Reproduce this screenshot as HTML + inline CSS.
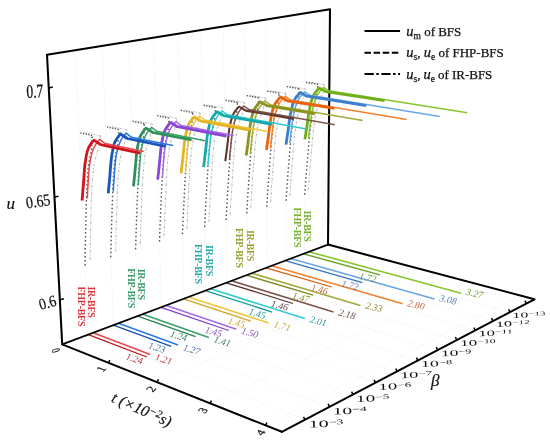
<!DOCTYPE html>
<html><head><meta charset="utf-8"><title>BFS velocity plot</title>
<style>html,body{margin:0;padding:0;background:#fff}svg{display:block}</style></head>
<body>
<svg width="550" height="442" viewBox="0 0 550 442">
<rect width="550" height="442" fill="#fff"/>
<g stroke="#e6ebf2" stroke-width="0.8" stroke-dasharray="1 1.6" fill="none">
<path d="M85.8,335.6 L305.0,419.7"/>
<path d="M111.0,326.1 L329.5,406.8"/>
<path d="M135.3,316.9 L353.0,394.5"/>
<path d="M158.7,308.2 L375.5,382.7"/>
<path d="M181.3,299.7 L397.1,371.3"/>
<path d="M203.1,291.5 L417.8,360.5"/>
<path d="M224.1,283.6 L437.7,350.0"/>
<path d="M244.5,276.0 L456.8,340.0"/>
<path d="M264.1,268.6 L475.2,330.4"/>
<path d="M283.1,261.4 L492.9,321.1"/>
<path d="M301.5,254.5 L510.0,312.1"/>
<path d="M319.3,247.8 L526.4,303.5"/>
<path d="M108.6,362.9 L372.8,256.4"/>
<path d="M157.2,382.3 L419.1,268.7"/>
<path d="M210.3,403.4 L468.7,281.8"/>
<path d="M265.7,425.4 L519.7,295.4"/>
</g>
<g stroke="#e6e6e6" stroke-width="0.8" stroke-dasharray="1 2" fill="none">
<path d="M88.3,334.6 L75.1,50.3"/>
<path d="M113.6,325.1 L102.3,45.9"/>
<path d="M138.0,316.0 L128.4,41.7"/>
<path d="M161.5,307.1 L153.5,37.7"/>
<path d="M184.1,298.6 L177.7,33.8"/>
<path d="M205.9,290.4 L200.9,30.0"/>
<path d="M227.0,282.5 L223.3,26.4"/>
<path d="M247.4,274.8 L244.9,23.0"/>
<path d="M267.1,267.4 L265.8,19.6"/>
<path d="M286.1,260.3 L285.9,16.4"/>
<path d="M304.5,253.4 L305.3,13.3"/>
<path d="M322.4,246.7 L324.1,10.2"/>
</g>
<path d="M93.2,332.8 L150.2,354.4" stroke="#e8494f" stroke-width="1.6" fill="none"/>
<path d="M88.3,334.6 L146.8,357.0" stroke="#c21219" stroke-width="1.3" fill="none"/>
<path d="M118.4,323.3 L178.1,345.1" stroke="#2a78e0" stroke-width="1.6" fill="none"/>
<path d="M113.4,325.2 L171.2,346.4" stroke="#174ea9" stroke-width="1.3" fill="none"/>
<path d="M142.8,314.2 L208.9,337.5" stroke="#3c9f6b" stroke-width="1.6" fill="none"/>
<path d="M137.7,316.1 L195.6,336.6" stroke="#2b8353" stroke-width="1.3" fill="none"/>
<path d="M166.2,305.4 L236.4,329.2" stroke="#a56be8" stroke-width="1.6" fill="none"/>
<path d="M161.0,307.3 L228.8,330.5" stroke="#7f3fc4" stroke-width="1.3" fill="none"/>
<path d="M188.8,296.9 L268.8,323.1" stroke="#f0c63c" stroke-width="1.6" fill="none"/>
<path d="M183.5,298.8 L250.8,321.1" stroke="#d3a51f" stroke-width="1.3" fill="none"/>
<path d="M210.5,288.7 L304.8,318.6" stroke="#2ccacf" stroke-width="1.6" fill="none"/>
<path d="M205.3,290.7 L272.1,312.1" stroke="#129b9f" stroke-width="1.3" fill="none"/>
<path d="M231.6,280.8 L333.5,312.1" stroke="#7d544b" stroke-width="1.6" fill="none"/>
<path d="M226.3,282.8 L293.0,303.5" stroke="#5b332b" stroke-width="1.3" fill="none"/>
<path d="M251.9,273.2 L360.4,305.5" stroke="#a3ab3a" stroke-width="1.6" fill="none"/>
<path d="M246.5,275.2 L313.2,295.2" stroke="#7f871c" stroke-width="1.3" fill="none"/>
<path d="M271.5,265.8 L402.6,303.7" stroke="#f4812d" stroke-width="1.6" fill="none"/>
<path d="M266.1,267.8 L331.8,287.0" stroke="#d25c0c" stroke-width="1.3" fill="none"/>
<path d="M290.5,258.6 L434.5,299.1" stroke="#6ba5e3" stroke-width="1.6" fill="none"/>
<path d="M285.1,260.7 L362.4,282.6" stroke="#3774bb" stroke-width="1.3" fill="none"/>
<path d="M308.9,251.7 L461.1,293.3" stroke="#86c52f" stroke-width="1.6" fill="none"/>
<path d="M303.4,253.8 L380.0,274.9" stroke="#66a019" stroke-width="1.3" fill="none"/>
<g stroke="#000" stroke-width="2.05" fill="none" stroke-linejoin="round" stroke-linecap="round">
<path d="M281.8,431.8 L62.2,344.4 L47.0,54.8 L330.0,9.3 L328.0,244.6"/>
<path d="M328.0,244.6 L534.5,299.3 L281.8,431.8"/>
<path d="M62.2,344.4 L328.0,244.6" stroke-width="1.7"/>
</g>
<polyline points="90.1,260.0 90.1,255.8 90.2,251.6 90.2,247.3 90.3,243.1 90.4,238.9 90.5,234.6 90.6,230.4 90.7,226.1 90.8,221.8 90.9,217.5 91.0,213.2 91.1,208.9 91.2,204.6 91.3,200.3 91.5,196.0 91.7,191.7 91.9,187.3 92.2,183.0 92.5,178.7 92.9,174.4 93.3,170.1 93.9,165.8 94.7,161.5 95.8,157.3 97.1,153.2 98.3,148.9 99.2,144.6 99.9,140.3 100.6,135.9" stroke="#bdbdbd" stroke-width="1.1" stroke-dasharray="3 1.6 1 1.6" fill="none"/>
<polyline points="100.6,135.9 84.3,132.2" stroke="#bdbdbd" stroke-width="1.1" stroke-dasharray="2.2 1.2 0.8 1.2" fill="none"/>
<polyline points="85.1,265.6 85.1,261.2 85.2,256.9 85.2,252.5 85.3,248.1 85.4,243.7 85.5,239.2 85.6,234.8 85.7,230.4 85.8,225.9 85.9,221.5 86.0,217.0 86.1,212.5 86.2,208.0 86.3,203.5 86.5,199.0 86.6,194.5 86.8,190.0 87.0,185.5 87.3,180.9 87.5,176.4 87.8,171.9 88.2,167.4 88.8,162.9 89.7,158.4 90.7,154.0 91.4,149.5 91.7,144.9 92.0,140.2 92.1,135.5" stroke="#505050" stroke-width="1.4" stroke-dasharray="1.5 2.5" fill="none"/>
<polyline points="92.1,135.5 78.9,132.5" stroke="#505050" stroke-width="1.4" stroke-dasharray="1.3 1.4" fill="none"/>
<polyline points="115.7,251.8 115.7,247.6 115.8,243.5 115.9,239.3 116.0,235.2 116.1,231.0 116.3,226.8 116.4,222.7 116.5,218.5 116.6,214.3 116.8,210.1 116.9,205.9 117.0,201.6 117.2,197.4 117.3,193.1 117.5,188.9 117.7,184.6 118.0,180.4 118.3,176.1 118.6,171.9 119.0,167.7 119.5,163.4 120.2,159.2 120.9,155.0 122.1,150.9 123.5,146.8 124.6,142.7 125.5,138.4 126.3,134.2 127.0,129.8" stroke="#bdbdbd" stroke-width="1.1" stroke-dasharray="3 1.6 1 1.6" fill="none"/>
<polyline points="127.0,129.8 110.7,126.3" stroke="#bdbdbd" stroke-width="1.1" stroke-dasharray="2.2 1.2 0.8 1.2" fill="none"/>
<polyline points="110.8,257.3 110.9,253.0 111.0,248.7 111.1,244.4 111.2,240.0 111.3,235.7 111.4,231.4 111.6,227.0 111.7,222.6 111.8,218.3 112.0,213.9 112.1,209.5 112.2,205.1 112.4,200.7 112.5,196.3 112.7,191.9 112.9,187.4 113.1,183.0 113.3,178.5 113.6,174.1 113.9,169.6 114.3,165.2 114.7,160.7 115.3,156.3 116.2,152.0 117.2,147.6 117.9,143.2 118.3,138.7 118.6,134.1 118.7,129.5" stroke="#505050" stroke-width="1.4" stroke-dasharray="1.5 2.5" fill="none"/>
<polyline points="118.7,129.5 105.6,126.6" stroke="#505050" stroke-width="1.4" stroke-dasharray="1.3 1.4" fill="none"/>
<polyline points="140.3,243.9 140.4,239.8 140.5,235.7 140.6,231.7 140.8,227.6 140.9,223.5 141.0,219.4 141.2,215.3 141.4,211.2 141.5,207.0 141.7,202.9 141.8,198.7 142.0,194.6 142.2,190.4 142.4,186.3 142.6,182.1 142.8,177.9 143.1,173.7 143.4,169.5 143.8,165.4 144.2,161.2 144.7,157.0 145.4,152.9 146.2,148.8 147.4,144.7 148.8,140.7 150.0,136.6 150.9,132.5 151.7,128.3 152.4,124.0" stroke="#bdbdbd" stroke-width="1.1" stroke-dasharray="3 1.6 1 1.6" fill="none"/>
<polyline points="152.4,124.0 136.1,120.6" stroke="#bdbdbd" stroke-width="1.1" stroke-dasharray="2.2 1.2 0.8 1.2" fill="none"/>
<polyline points="135.6,249.3 135.8,245.0 135.9,240.8 136.0,236.6 136.1,232.3 136.3,228.1 136.4,223.8 136.5,219.5 136.7,215.2 136.9,210.9 137.0,206.6 137.2,202.3 137.4,198.0 137.5,193.6 137.7,189.3 137.9,185.0 138.1,180.6 138.4,176.2 138.6,171.9 138.9,167.5 139.3,163.1 139.6,158.8 140.1,154.4 140.7,150.0 141.7,145.8 142.7,141.5 143.5,137.1 143.9,132.7 144.2,128.2 144.3,123.7" stroke="#505050" stroke-width="1.4" stroke-dasharray="1.5 2.5" fill="none"/>
<polyline points="144.3,123.7 131.2,120.9" stroke="#505050" stroke-width="1.4" stroke-dasharray="1.3 1.4" fill="none"/>
<polyline points="164.0,236.3 164.2,232.3 164.3,228.3 164.4,224.3 164.6,220.3 164.8,216.2 164.9,212.2 165.1,208.1 165.3,204.1 165.5,200.0 165.6,196.0 165.8,191.9 166.0,187.8 166.2,183.7 166.4,179.6 166.6,175.5 166.9,171.4 167.2,167.3 167.5,163.2 167.9,159.1 168.4,155.0 169.0,150.9 169.6,146.8 170.5,142.8 171.7,138.8 173.1,134.8 174.3,130.8 175.3,126.7 176.1,122.6 176.8,118.4" stroke="#bdbdbd" stroke-width="1.1" stroke-dasharray="3 1.6 1 1.6" fill="none"/>
<polyline points="176.8,118.4 160.6,115.1" stroke="#bdbdbd" stroke-width="1.1" stroke-dasharray="2.2 1.2 0.8 1.2" fill="none"/>
<polyline points="159.5,241.6 159.7,237.4 159.8,233.2 159.9,229.1 160.1,224.9 160.3,220.7 160.4,216.5 160.6,212.3 160.8,208.1 161.0,203.8 161.2,199.6 161.4,195.4 161.5,191.1 161.7,186.9 162.0,182.6 162.2,178.3 162.4,174.0 162.7,169.7 163.0,165.5 163.3,161.2 163.6,156.9 164.1,152.6 164.5,148.3 165.2,144.0 166.2,139.8 167.2,135.6 168.0,131.3 168.5,126.9 168.8,122.5 169.0,118.1" stroke="#505050" stroke-width="1.4" stroke-dasharray="1.5 2.5" fill="none"/>
<polyline points="169.0,118.1 155.8,115.4" stroke="#505050" stroke-width="1.4" stroke-dasharray="1.3 1.4" fill="none"/>
<polyline points="186.9,229.0 187.0,225.0 187.2,221.1 187.4,217.1 187.5,213.2 187.7,209.2 187.9,205.3 188.1,201.3 188.3,197.3 188.5,193.3 188.7,189.3 188.9,185.3 189.1,181.3 189.4,177.3 189.6,173.2 189.8,169.2 190.1,165.2 190.4,161.1 190.8,157.1 191.2,153.0 191.7,149.0 192.3,145.0 193.0,141.0 193.8,137.0 195.1,133.1 196.5,129.2 197.7,125.2 198.7,121.2 199.6,117.2 200.3,113.1" stroke="#bdbdbd" stroke-width="1.1" stroke-dasharray="3 1.6 1 1.6" fill="none"/>
<polyline points="200.3,113.1 184.1,109.9" stroke="#bdbdbd" stroke-width="1.1" stroke-dasharray="2.2 1.2 0.8 1.2" fill="none"/>
<polyline points="182.5,234.1 182.7,230.0 182.9,225.9 183.0,221.8 183.2,217.7 183.4,213.6 183.6,209.5 183.8,205.3 184.0,201.2 184.2,197.0 184.4,192.9 184.6,188.7 184.8,184.5 185.1,180.3 185.3,176.1 185.5,171.9 185.8,167.7 186.1,163.5 186.4,159.3 186.7,155.0 187.1,150.8 187.6,146.6 188.1,142.4 188.7,138.2 189.7,134.0 190.8,129.9 191.6,125.7 192.1,121.4 192.5,117.1 192.7,112.7" stroke="#505050" stroke-width="1.4" stroke-dasharray="1.5 2.5" fill="none"/>
<polyline points="192.7,112.7 179.5,110.1" stroke="#505050" stroke-width="1.4" stroke-dasharray="1.3 1.4" fill="none"/>
<polyline points="208.9,221.9 209.1,218.0 209.3,214.2 209.5,210.3 209.7,206.4 209.9,202.5 210.1,198.6 210.3,194.7 210.5,190.8 210.8,186.8 211.0,182.9 211.2,178.9 211.4,175.0 211.7,171.0 211.9,167.1 212.2,163.1 212.5,159.1 212.8,155.2 213.2,151.2 213.7,147.2 214.2,143.3 214.8,139.3 215.5,135.4 216.4,131.4 217.6,127.6 219.1,123.7 220.3,119.9 221.3,115.9 222.2,111.9 223.0,107.9" stroke="#bdbdbd" stroke-width="1.1" stroke-dasharray="3 1.6 1 1.6" fill="none"/>
<polyline points="223.0,107.9 206.8,104.8" stroke="#bdbdbd" stroke-width="1.1" stroke-dasharray="2.2 1.2 0.8 1.2" fill="none"/>
<polyline points="204.7,227.0 204.9,222.9 205.1,218.9 205.3,214.9 205.5,210.8 205.7,206.7 205.9,202.7 206.1,198.6 206.3,194.5 206.6,190.5 206.8,186.4 207.0,182.3 207.3,178.1 207.5,174.0 207.8,169.9 208.0,165.8 208.3,161.6 208.6,157.5 209.0,153.3 209.3,149.2 209.7,145.0 210.2,140.9 210.7,136.7 211.4,132.6 212.4,128.5 213.6,124.4 214.4,120.3 214.9,116.1 215.3,111.8 215.5,107.5" stroke="#505050" stroke-width="1.4" stroke-dasharray="1.5 2.5" fill="none"/>
<polyline points="215.5,107.5 202.4,105.0" stroke="#505050" stroke-width="1.4" stroke-dasharray="1.3 1.4" fill="none"/>
<polyline points="230.2,215.1 230.4,211.3 230.6,207.5 230.8,203.6 231.0,199.8 231.2,196.0 231.5,192.1 231.7,188.3 232.0,184.4 232.2,180.6 232.5,176.7 232.7,172.8 232.9,168.9 233.2,165.0 233.5,161.1 233.8,157.2 234.1,153.3 234.4,149.4 234.8,145.5 235.3,141.6 235.8,137.7 236.5,133.8 237.2,129.9 238.1,126.1 239.3,122.3 240.8,118.5 242.1,114.7 243.1,110.8 244.0,106.9 244.8,102.9" stroke="#bdbdbd" stroke-width="1.1" stroke-dasharray="3 1.6 1 1.6" fill="none"/>
<polyline points="244.8,102.9 228.7,99.9" stroke="#bdbdbd" stroke-width="1.1" stroke-dasharray="2.2 1.2 0.8 1.2" fill="none"/>
<polyline points="226.1,220.0 226.3,216.1 226.5,212.1 226.7,208.1 227.0,204.1 227.2,200.1 227.4,196.2 227.7,192.1 227.9,188.1 228.2,184.1 228.4,180.1 228.7,176.0 228.9,172.0 229.2,167.9 229.5,163.9 229.8,159.8 230.1,155.7 230.4,151.7 230.7,147.6 231.1,143.5 231.5,139.4 232.0,135.3 232.6,131.2 233.3,127.2 234.3,123.2 235.5,119.2 236.3,115.1 236.8,110.9 237.2,106.8 237.5,102.5" stroke="#505050" stroke-width="1.4" stroke-dasharray="1.5 2.5" fill="none"/>
<polyline points="237.5,102.5 224.4,100.1" stroke="#505050" stroke-width="1.4" stroke-dasharray="1.3 1.4" fill="none"/>
<polyline points="250.8,208.5 251.0,204.8 251.2,201.0 251.4,197.3 251.6,193.5 251.9,189.7 252.1,185.9 252.4,182.1 252.6,178.3 252.9,174.5 253.2,170.7 253.4,166.9 253.7,163.1 254.0,159.2 254.3,155.4 254.6,151.6 254.9,147.7 255.3,143.9 255.7,140.0 256.2,136.2 256.7,132.3 257.4,128.5 258.1,124.7 259.0,120.9 260.3,117.2 261.8,113.4 263.1,109.7 264.1,105.8 265.0,102.0 265.8,98.1" stroke="#bdbdbd" stroke-width="1.1" stroke-dasharray="3 1.6 1 1.6" fill="none"/>
<polyline points="265.8,98.1 249.7,95.2" stroke="#bdbdbd" stroke-width="1.1" stroke-dasharray="2.2 1.2 0.8 1.2" fill="none"/>
<polyline points="246.8,213.4 247.0,209.5 247.2,205.5 247.5,201.6 247.7,197.7 247.9,193.8 248.2,189.8 248.5,185.9 248.7,182.0 249.0,178.0 249.3,174.0 249.5,170.1 249.8,166.1 250.1,162.1 250.4,158.1 250.7,154.1 251.0,150.1 251.4,146.1 251.7,142.0 252.1,138.0 252.6,134.0 253.1,130.0 253.6,126.0 254.4,122.0 255.4,118.0 256.6,114.1 257.4,110.1 258.0,106.0 258.4,101.9 258.6,97.7" stroke="#505050" stroke-width="1.4" stroke-dasharray="1.5 2.5" fill="none"/>
<polyline points="258.6,97.7 245.6,95.4" stroke="#505050" stroke-width="1.4" stroke-dasharray="1.3 1.4" fill="none"/>
<polyline points="270.6,202.2 270.8,198.5 271.1,194.8 271.3,191.1 271.5,187.4 271.8,183.6 272.1,179.9 272.3,176.2 272.6,172.4 272.9,168.7 273.2,165.0 273.5,161.2 273.7,157.4 274.0,153.6 274.3,149.9 274.7,146.1 275.0,142.3 275.4,138.5 275.8,134.7 276.3,130.9 276.9,127.2 277.6,123.4 278.3,119.6 279.2,115.9 280.5,112.2 282.0,108.6 283.3,104.8 284.3,101.1 285.3,97.3 286.1,93.4" stroke="#bdbdbd" stroke-width="1.1" stroke-dasharray="3 1.6 1 1.6" fill="none"/>
<polyline points="286.1,93.4 270.1,90.7" stroke="#bdbdbd" stroke-width="1.1" stroke-dasharray="2.2 1.2 0.8 1.2" fill="none"/>
<polyline points="266.8,206.9 267.0,203.1 267.2,199.2 267.5,195.4 267.7,191.5 268.0,187.6 268.3,183.8 268.5,179.9 268.8,176.0 269.1,172.1 269.4,168.2 269.7,164.3 270.0,160.4 270.3,156.4 270.6,152.5 270.9,148.5 271.3,144.6 271.6,140.7 272.0,136.7 272.4,132.7 272.9,128.8 273.4,124.8 274.0,120.9 274.7,116.9 275.8,113.0 277.0,109.2 277.8,105.2 278.4,101.2 278.8,97.2 279.1,93.1" stroke="#505050" stroke-width="1.4" stroke-dasharray="1.5 2.5" fill="none"/>
<polyline points="279.1,93.1 266.1,90.8" stroke="#505050" stroke-width="1.4" stroke-dasharray="1.3 1.4" fill="none"/>
<polyline points="289.8,196.0 290.0,192.4 290.3,188.7 290.5,185.1 290.8,181.4 291.1,177.8 291.3,174.1 291.6,170.4 291.9,166.8 292.2,163.1 292.5,159.4 292.8,155.7 293.1,152.0 293.4,148.2 293.7,144.5 294.1,140.8 294.4,137.1 294.8,133.3 295.3,129.6 295.8,125.9 296.4,122.2 297.0,118.5 297.8,114.8 298.7,111.1 300.1,107.4 301.5,103.8 302.9,100.2 303.9,96.5 304.9,92.7 305.7,89.0" stroke="#bdbdbd" stroke-width="1.1" stroke-dasharray="3 1.6 1 1.6" fill="none"/>
<polyline points="305.7,89.0 289.8,86.3" stroke="#bdbdbd" stroke-width="1.1" stroke-dasharray="2.2 1.2 0.8 1.2" fill="none"/>
<polyline points="286.1,200.7 286.3,196.9 286.6,193.1 286.8,189.3 287.1,185.5 287.4,181.7 287.7,177.9 287.9,174.0 288.2,170.2 288.5,166.4 288.9,162.5 289.2,158.7 289.5,154.8 289.8,151.0 290.1,147.1 290.5,143.2 290.8,139.3 291.2,135.4 291.6,131.5 292.0,127.6 292.5,123.7 293.0,119.8 293.6,116.0 294.4,112.1 295.5,108.3 296.6,104.4 297.5,100.5 298.1,96.6 298.6,92.6 298.8,88.6" stroke="#505050" stroke-width="1.4" stroke-dasharray="1.5 2.5" fill="none"/>
<polyline points="298.8,88.6 285.9,86.4" stroke="#505050" stroke-width="1.4" stroke-dasharray="1.3 1.4" fill="none"/>
<polyline points="308.3,190.1 308.6,186.5 308.9,182.9 309.1,179.3 309.4,175.7 309.7,172.1 310.0,168.5 310.3,164.9 310.6,161.2 310.9,157.6 311.2,154.0 311.5,150.3 311.8,146.7 312.1,143.0 312.5,139.4 312.8,135.7 313.2,132.0 313.6,128.3 314.1,124.7 314.6,121.0 315.2,117.3 315.9,113.7 316.7,110.0 317.6,106.4 318.9,102.8 320.4,99.3 321.8,95.7 322.8,92.0 323.8,88.3 324.6,84.6" stroke="#bdbdbd" stroke-width="1.1" stroke-dasharray="3 1.6 1 1.6" fill="none"/>
<polyline points="324.6,84.6 308.8,82.1" stroke="#bdbdbd" stroke-width="1.1" stroke-dasharray="2.2 1.2 0.8 1.2" fill="none"/>
<polyline points="304.7,194.6 305.0,190.9 305.3,187.2 305.5,183.4 305.8,179.7 306.1,175.9 306.4,172.2 306.7,168.4 307.0,164.6 307.3,160.9 307.7,157.1 308.0,153.3 308.3,149.5 308.6,145.7 309.0,141.9 309.3,138.0 309.7,134.2 310.1,130.4 310.5,126.5 311.0,122.7 311.5,118.9 312.0,115.0 312.6,111.2 313.4,107.4 314.5,103.6 315.7,99.9 316.5,96.0 317.1,92.1 317.6,88.2 317.9,84.3" stroke="#505050" stroke-width="1.4" stroke-dasharray="1.5 2.5" fill="none"/>
<polyline points="317.9,84.3 305.1,82.2" stroke="#505050" stroke-width="1.4" stroke-dasharray="1.3 1.4" fill="none"/>
<polyline points="308.5,138.1 309.0,134.3 309.4,130.6 309.8,127.2 310.3,123.8 310.7,120.4 311.1,117.2 311.6,114.1 312.0,111.4 312.4,109.2 312.9,107.4 313.3,105.7 313.7,104.2 314.2,102.7 314.6,101.4 315.0,100.2 315.5,99.1 315.9,98.1 316.3,97.1 316.8,96.3 317.2,95.5 317.6,94.7 318.0,94.0 318.5,93.4 318.9,92.8 319.3,92.2 319.8,91.6 320.2,91.1 320.6,90.6 321.1,90.1 321.5,89.6 321.9,89.1 322.4,88.7 322.8,88.3 323.2,87.9 323.7,87.5 328.7,90.8 467.3,112.8" stroke="#86c52f" stroke-width="1.5" fill="none" stroke-linejoin="round"/>
<polyline points="304.9,139.4 305.3,136.8 305.7,134.2 306.1,131.5 306.5,128.8 307.0,126.1 307.4,123.2 307.8,120.2 308.2,117.1 308.6,114.1 309.0,111.4 309.5,109.2 309.9,107.2 310.3,105.4 310.7,103.6 311.1,102.0 311.5,100.5 312.0,99.2 312.4,98.0 312.8,96.9 313.2,96.0 313.6,95.2 314.0,94.5 314.4,93.8 314.9,93.2 315.3,92.7 315.7,92.1 316.1,91.6 316.5,91.1 316.9,90.6 317.4,90.1 317.8,89.7 318.2,89.3 318.6,88.8 319.0,88.5 319.4,88.1 325.9,91.7 384.6,100.7" stroke="#6fae1c" stroke-width="2.8" fill="none" stroke-linejoin="round"/>
<polyline points="289.8,143.2 290.2,139.4 290.6,135.6 291.0,132.1 291.5,128.7 291.9,125.3 292.3,122.0 292.7,118.9 293.1,116.1 293.6,113.9 294.0,112.0 294.4,110.3 294.8,108.8 295.3,107.3 295.7,106.0 296.1,104.8 296.6,103.6 297.0,102.6 297.4,101.7 297.8,100.8 298.3,100.0 298.7,99.2 299.1,98.5 299.6,97.8 300.0,97.2 300.4,96.6 300.9,96.1 301.3,95.5 301.7,95.0 302.1,94.5 302.6,94.0 303.0,93.5 303.4,93.1 303.9,92.7 304.3,92.3 304.7,91.9 309.8,95.3 439.8,116.5" stroke="#6ba5e3" stroke-width="1.5" fill="none" stroke-linejoin="round"/>
<polyline points="286.0,144.6 286.4,142.0 286.8,139.3 287.2,136.6 287.6,133.9 288.0,131.1 288.4,128.2 288.8,125.0 289.2,121.9 289.6,118.9 290.0,116.2 290.5,113.9 290.9,111.9 291.3,110.0 291.7,108.3 292.1,106.6 292.5,105.1 292.9,103.7 293.3,102.5 293.7,101.4 294.2,100.5 294.6,99.7 295.0,99.0 295.4,98.3 295.8,97.7 296.2,97.1 296.6,96.6 297.1,96.1 297.5,95.6 297.9,95.1 298.3,94.6 298.7,94.1 299.1,93.7 299.6,93.2 300.0,92.9 300.4,92.5 306.9,96.2 366.3,105.6" stroke="#3c7fcc" stroke-width="2.8" fill="none" stroke-linejoin="round"/>
<polyline points="270.4,148.5 270.8,144.6 271.2,140.8 271.6,137.3 272.0,133.8 272.4,130.3 272.8,126.9 273.2,123.8 273.6,121.0 274.0,118.7 274.5,116.9 274.9,115.1 275.3,113.5 275.7,112.1 276.1,110.7 276.6,109.5 277.0,108.3 277.4,107.3 277.8,106.3 278.3,105.4 278.7,104.6 279.1,103.8 279.6,103.1 280.0,102.5 280.4,101.8 280.8,101.2 281.3,100.7 281.7,100.1 282.1,99.6 282.6,99.1 283.0,98.6 283.4,98.1 283.9,97.6 284.3,97.2 284.7,96.8 285.2,96.4 290.2,99.9 406.7,119.4" stroke="#f4812d" stroke-width="1.5" fill="none" stroke-linejoin="round"/>
<polyline points="266.5,150.0 266.8,147.3 267.2,144.6 267.6,141.8 268.0,139.0 268.4,136.2 268.8,133.3 269.2,130.1 269.6,126.9 270.0,123.8 270.4,121.1 270.8,118.7 271.2,116.7 271.6,114.8 272.0,113.0 272.4,111.4 272.8,109.8 273.2,108.4 273.6,107.2 274.0,106.1 274.5,105.2 274.9,104.4 275.3,103.6 275.7,102.9 276.1,102.3 276.5,101.7 276.9,101.2 277.3,100.7 277.8,100.2 278.2,99.7 278.6,99.2 279.0,98.7 279.4,98.2 279.8,97.8 280.3,97.4 280.7,97.0 287.2,100.8 334.4,108.4" stroke="#e5650e" stroke-width="2.8" fill="none" stroke-linejoin="round"/>
<polyline points="250.3,154.0 250.7,150.1 251.0,146.2 251.4,142.6 251.8,139.1 252.2,135.5 252.6,132.1 253.0,128.9 253.4,126.1 253.8,123.8 254.2,121.9 254.7,120.1 255.1,118.5 255.5,117.0 255.9,115.6 256.3,114.4 256.7,113.2 257.2,112.1 257.6,111.2 258.0,110.2 258.4,109.4 258.9,108.6 259.3,107.9 259.7,107.2 260.1,106.6 260.6,106.0 261.0,105.4 261.4,104.9 261.9,104.3 262.3,103.8 262.7,103.3 263.2,102.8 263.6,102.3 264.0,101.9 264.4,101.5 264.9,101.1 270.0,104.7 362.7,120.5" stroke="#a3ab3a" stroke-width="1.5" fill="none" stroke-linejoin="round"/>
<polyline points="246.2,155.5 246.6,152.8 247.0,150.0 247.4,147.2 247.8,144.4 248.1,141.6 248.5,138.5 248.9,135.3 249.3,132.1 249.7,129.0 250.0,126.2 250.4,123.8 250.8,121.7 251.2,119.8 251.6,118.0 252.0,116.3 252.4,114.7 252.8,113.3 253.2,112.1 253.6,111.0 254.0,110.0 254.5,109.2 254.9,108.4 255.3,107.7 255.7,107.1 256.1,106.5 256.5,106.0 256.9,105.4 257.3,104.9 257.7,104.4 258.2,103.9 258.6,103.4 259.0,103.0 259.4,102.5 259.8,102.1 260.2,101.8 266.9,105.6 315.1,113.6" stroke="#8b931f" stroke-width="2.8" fill="none" stroke-linejoin="round"/>
<polyline points="229.5,159.7 229.8,155.7 230.2,151.8 230.6,148.1 231.0,144.5 231.3,140.9 231.7,137.4 232.1,134.2 232.5,131.3 232.9,129.0 233.3,127.0 233.7,125.3 234.1,123.6 234.5,122.1 234.9,120.7 235.3,119.4 235.8,118.2 236.2,117.2 236.6,116.2 237.0,115.2 237.4,114.4 237.9,113.6 238.3,112.9 238.7,112.2 239.1,111.5 239.6,110.9 240.0,110.3 240.4,109.8 240.8,109.2 241.3,108.7 241.7,108.2 242.1,107.7 242.6,107.2 243.0,106.8 243.4,106.4 243.9,106.0 249.0,109.6 334.8,124.7" stroke="#7d544b" stroke-width="1.5" fill="none" stroke-linejoin="round"/>
<polyline points="225.3,161.2 225.7,158.5 226.0,155.7 226.4,152.8 226.8,150.0 227.1,147.1 227.5,144.0 227.9,140.7 228.2,137.4 228.6,134.3 229.0,131.4 229.3,129.0 229.7,126.9 230.1,125.0 230.5,123.1 230.9,121.4 231.3,119.8 231.7,118.4 232.1,117.1 232.5,116.0 232.9,115.0 233.3,114.2 233.7,113.4 234.1,112.7 234.5,112.1 234.9,111.5 235.3,110.9 235.8,110.4 236.2,109.9 236.6,109.3 237.0,108.8 237.4,108.3 237.8,107.9 238.2,107.4 238.7,107.0 239.1,106.7 245.7,110.6 293.9,118.9" stroke="#63382f" stroke-width="2.1" fill="none" stroke-linejoin="round"/>
<polyline points="207.9,165.6 208.3,161.5 208.6,157.5 209.0,153.8 209.3,150.2 209.7,146.5 210.1,143.0 210.4,139.7 210.8,136.7 211.2,134.4 211.6,132.4 212.0,130.6 212.4,128.9 212.8,127.4 213.2,126.0 213.6,124.7 214.0,123.5 214.4,122.4 214.8,121.3 215.3,120.4 215.7,119.5 216.1,118.7 216.5,118.0 216.9,117.3 217.4,116.6 217.8,116.0 218.2,115.4 218.6,114.9 219.1,114.3 219.5,113.8 219.9,113.2 220.3,112.7 220.8,112.3 221.2,111.8 221.6,111.4 222.1,111.0 227.2,114.7 305.0,128.8" stroke="#2ccacf" stroke-width="1.5" fill="none" stroke-linejoin="round"/>
<polyline points="203.6,167.2 203.9,164.4 204.3,161.5 204.6,158.6 205.0,155.7 205.3,152.8 205.7,149.7 206.1,146.3 206.4,143.0 206.8,139.8 207.1,136.9 207.5,134.4 207.9,132.3 208.2,130.3 208.6,128.4 209.0,126.7 209.4,125.1 209.8,123.6 210.2,122.3 210.6,121.2 211.0,120.2 211.4,119.4 211.8,118.6 212.2,117.9 212.6,117.2 213.0,116.6 213.4,116.0 213.8,115.5 214.2,115.0 214.6,114.4 215.0,113.9 215.5,113.4 215.9,113.0 216.3,112.5 216.7,112.1 217.1,111.7 223.8,115.7 272.0,124.3" stroke="#14a9ad" stroke-width="2.8" fill="none" stroke-linejoin="round"/>
<polyline points="185.6,171.7 185.9,167.6 186.2,163.5 186.6,159.7 186.9,156.0 187.2,152.3 187.6,148.7 187.9,145.3 188.3,142.4 188.7,140.0 189.1,138.0 189.4,136.1 189.8,134.4 190.2,132.9 190.6,131.4 191.0,130.1 191.4,128.9 191.9,127.8 192.3,126.7 192.7,125.8 193.1,124.9 193.5,124.1 193.9,123.3 194.3,122.6 194.8,122.0 195.2,121.3 195.6,120.7 196.0,120.1 196.5,119.6 196.9,119.0 197.3,118.5 197.7,118.0 198.2,117.5 198.6,117.1 199.0,116.6 199.4,116.2 204.7,120.0 267.5,131.6" stroke="#f0c63c" stroke-width="1.5" fill="none" stroke-linejoin="round"/>
<polyline points="181.1,173.4 181.4,170.5 181.7,167.6 182.1,164.7 182.4,161.7 182.8,158.7 183.1,155.5 183.4,152.2 183.8,148.8 184.1,145.5 184.4,142.5 184.8,140.0 185.2,137.9 185.5,135.9 185.9,134.0 186.3,132.2 186.7,130.6 187.0,129.1 187.4,127.8 187.8,126.6 188.2,125.6 188.6,124.7 189.0,123.9 189.4,123.2 189.8,122.6 190.2,121.9 190.6,121.4 191.0,120.8 191.4,120.3 191.9,119.7 192.3,119.2 192.7,118.7 193.1,118.2 193.5,117.8 193.9,117.4 194.3,117.0 201.0,121.1 249.7,130.1" stroke="#e6b422" stroke-width="2.8" fill="none" stroke-linejoin="round"/>
<polyline points="162.4,178.1 162.7,173.8 163.0,169.7 163.3,165.9 163.6,162.1 163.9,158.3 164.3,154.7 164.6,151.2 164.9,148.2 165.3,145.8 165.7,143.7 166.1,141.9 166.4,140.1 166.8,138.5 167.2,137.1 167.6,135.7 168.0,134.5 168.4,133.4 168.8,132.3 169.2,131.4 169.6,130.5 170.1,129.6 170.5,128.9 170.9,128.1 171.3,127.5 171.7,126.8 172.1,126.2 172.6,125.6 173.0,125.1 173.4,124.5 173.8,124.0 174.3,123.4 174.7,123.0 175.1,122.5 175.5,122.1 176.0,121.7 181.2,125.6 233.8,135.4" stroke="#a56be8" stroke-width="1.5" fill="none" stroke-linejoin="round"/>
<polyline points="157.7,179.7 158.0,176.8 158.4,173.9 158.7,170.9 159.0,167.9 159.3,164.9 159.6,161.6 160.0,158.2 160.3,154.7 160.6,151.4 160.9,148.4 161.3,145.9 161.6,143.7 162.0,141.6 162.3,139.7 162.7,137.9 163.1,136.2 163.4,134.7 163.8,133.4 164.2,132.2 164.6,131.2 165.0,130.3 165.4,129.5 165.8,128.8 166.2,128.1 166.6,127.5 167.0,126.9 167.4,126.3 167.8,125.8 168.2,125.2 168.6,124.7 169.0,124.2 169.4,123.7 169.8,123.3 170.3,122.8 170.7,122.4 177.4,126.7 226.5,136.1" stroke="#8b45d6" stroke-width="2.8" fill="none" stroke-linejoin="round"/>
<polyline points="138.3,184.7 138.6,180.3 138.9,176.2 139.2,172.2 139.5,168.4 139.8,164.6 140.1,160.8 140.4,157.4 140.7,154.3 141.0,151.8 141.4,149.7 141.8,147.8 142.1,146.1 142.5,144.4 142.9,143.0 143.3,141.6 143.7,140.3 144.1,139.2 144.5,138.1 144.9,137.1 145.3,136.2 145.7,135.4 146.1,134.6 146.5,133.9 146.9,133.2 147.3,132.5 147.8,131.9 148.2,131.3 148.6,130.8 149.0,130.2 149.4,129.6 149.9,129.1 150.3,128.6 150.7,128.2 151.1,127.7 151.6,127.3 156.8,131.3 205.2,140.7" stroke="#3c9f6b" stroke-width="1.5" fill="none" stroke-linejoin="round"/>
<polyline points="133.5,186.4 133.8,183.4 134.1,180.4 134.4,177.4 134.7,174.3 135.0,171.2 135.3,168.0 135.6,164.5 135.9,161.0 136.2,157.6 136.5,154.5 136.8,151.9 137.1,149.7 137.5,147.6 137.8,145.7 138.2,143.8 138.5,142.1 138.9,140.6 139.3,139.2 139.7,138.0 140.0,137.0 140.4,136.1 140.8,135.3 141.2,134.6 141.6,133.9 142.0,133.2 142.4,132.6 142.8,132.1 143.2,131.5 143.6,131.0 144.0,130.4 144.4,129.9 144.8,129.4 145.2,129.0 145.7,128.5 146.1,128.1 152.8,132.5 191.6,140.0" stroke="#2f8f5b" stroke-width="2.8" fill="none" stroke-linejoin="round"/>
<polyline points="113.3,191.5 113.5,187.1 113.8,182.9 114.1,178.9 114.3,175.0 114.6,171.1 114.9,167.3 115.2,163.7 115.5,160.6 115.8,158.1 116.2,156.0 116.5,154.0 116.9,152.2 117.3,150.6 117.6,149.1 118.0,147.7 118.4,146.4 118.8,145.2 119.2,144.2 119.6,143.2 120.0,142.2 120.4,141.4 120.8,140.6 121.2,139.8 121.6,139.2 122.0,138.5 122.4,137.9 122.8,137.3 123.2,136.7 123.7,136.1 124.1,135.5 124.5,135.0 124.9,134.5 125.3,134.0 125.8,133.6 126.2,133.2 131.5,137.3 173.0,145.5" stroke="#2a78e0" stroke-width="1.5" fill="none" stroke-linejoin="round"/>
<polyline points="108.3,193.3 108.5,190.3 108.8,187.2 109.1,184.2 109.4,181.0 109.7,177.9 110.0,174.5 110.2,171.0 110.5,167.4 110.8,164.0 111.1,160.9 111.4,158.2 111.7,156.0 112.0,153.9 112.4,151.8 112.7,150.0 113.1,148.3 113.4,146.7 113.8,145.3 114.1,144.1 114.5,143.1 114.9,142.1 115.3,141.3 115.7,140.6 116.1,139.9 116.5,139.2 116.9,138.6 117.3,138.0 117.7,137.5 118.1,136.9 118.5,136.4 118.9,135.8 119.3,135.3 119.7,134.9 120.1,134.4 120.5,134.0 127.3,138.5 165.8,146.3" stroke="#1a55b8" stroke-width="2.8" fill="none" stroke-linejoin="round"/>
<polyline points="87.3,198.6 87.5,194.1 87.7,189.8 88.0,185.7 88.2,181.8 88.5,177.8 88.7,173.9 89.0,170.3 89.3,167.2 89.6,164.6 89.9,162.4 90.3,160.5 90.6,158.6 91.0,157.0 91.3,155.4 91.7,154.0 92.1,152.7 92.5,151.5 92.8,150.4 93.2,149.4 93.6,148.5 94.0,147.6 94.4,146.8 94.8,146.1 95.2,145.4 95.6,144.7 96.0,144.0 96.4,143.4 96.9,142.8 97.3,142.2 97.7,141.7 98.1,141.1 98.5,140.6 98.9,140.2 99.3,139.7 99.8,139.3 105.1,143.5 143.8,151.4" stroke="#e8494f" stroke-width="1.5" fill="none" stroke-linejoin="round"/>
<polyline points="82.1,200.5 82.3,197.4 82.6,194.3 82.8,191.2 83.1,188.0 83.4,184.8 83.6,181.4 83.9,177.8 84.1,174.1 84.4,170.6 84.6,167.5 84.9,164.8 85.2,162.5 85.6,160.3 85.9,158.3 86.2,156.4 86.5,154.6 86.9,153.0 87.2,151.6 87.6,150.4 88.0,149.4 88.3,148.4 88.7,147.6 89.1,146.8 89.5,146.1 89.9,145.4 90.3,144.8 90.7,144.2 91.1,143.7 91.5,143.1 91.9,142.5 92.3,142.0 92.6,141.5 93.0,141.0 93.5,140.6 93.9,140.2 100.7,144.7 140.0,153.1" stroke="#d3141c" stroke-width="2.8" fill="none" stroke-linejoin="round"/>
<g stroke="#000" stroke-width="1.5" fill="none">
<path d="M305.0,419.7 L303.5,416.8"/>
<path d="M329.5,406.8 L328.1,403.9"/>
<path d="M353.0,394.5 L351.6,391.6"/>
<path d="M375.5,382.7 L374.1,379.8"/>
<path d="M397.1,371.3 L395.7,368.5"/>
<path d="M417.8,360.5 L416.4,357.6"/>
<path d="M437.7,350.0 L436.3,347.2"/>
<path d="M456.8,340.0 L455.4,337.1"/>
<path d="M475.2,330.4 L473.8,327.5"/>
<path d="M492.9,321.1 L491.5,318.2"/>
<path d="M510.0,312.1 L508.6,309.3"/>
<path d="M526.4,303.5 L525.0,300.6"/>
<path d="M108.6,362.9 L109.7,359.9"/>
<path d="M157.2,382.3 L158.4,379.3"/>
<path d="M210.3,403.4 L211.4,400.4"/>
<path d="M265.7,425.4 L266.8,422.4"/>
<path d="M59.8,299.8 L63.9,298.8"/>
<path d="M54.5,197.2 L58.5,196.1"/>
<path d="M48.7,88.1 L52.8,87.1"/>
</g>
<g font-family="'Liberation Serif', serif" fill="#111" stroke="#111" stroke-width="0.2">
<text transform="translate(43.6,97.2) rotate(-3) scale(1,1.42)" font-size="13.5" text-anchor="end">0.7</text>
<text transform="translate(51,205) rotate(-8) scale(1,1.2)" font-size="14" text-anchor="end">0.65</text>
<text transform="translate(57.3,305.5) rotate(-15) scale(1,1.15)" font-size="14" text-anchor="end">0.6</text>
<text x="6.5" y="209.3" font-size="17" font-style="italic">u</text>
<text transform="translate(56,350.5) rotate(73) scale(0.65,1)" font-size="12" text-anchor="middle" dy="4">0</text>
<text transform="matrix(0.70,-0.68,0.93,0.37,101,369)" font-size="11.8" text-anchor="middle" dy="4">1</text>
<text transform="matrix(0.70,-0.68,0.93,0.37,151,389)" font-size="11.8" text-anchor="middle" dy="4">2</text>
<text transform="matrix(0.70,-0.68,0.93,0.37,202.7,410.4)" font-size="11.8" text-anchor="middle" dy="4">3</text>
<text transform="matrix(0.70,-0.68,0.93,0.37,260.6,432.5)" font-size="11.8" text-anchor="middle" dy="4">4</text>
<text transform="translate(110.6,401.2) rotate(24)" font-size="15.6" font-style="italic">t (×10<tspan font-size="11" dy="-4.5">−2</tspan><tspan dy="4.5">s)</tspan></text>
<text transform="translate(308.7,427.6) rotate(-2) scale(2.05,1)" stroke="none" font-size="9.80">10<tspan font-size="6.86" dy="-2.3">−3</tspan></text>
<text transform="translate(332.8,414.5) rotate(-2) scale(2.05,1)" stroke="none" font-size="9.59">10<tspan font-size="6.71" dy="-2.2">−4</tspan></text>
<text transform="translate(356.1,402.0) rotate(-2) scale(2.05,1)" stroke="none" font-size="9.38">10<tspan font-size="6.57" dy="-2.2">−5</tspan></text>
<text transform="translate(378.6,389.9) rotate(-2) scale(2.05,1)" stroke="none" font-size="9.17">10<tspan font-size="6.42" dy="-2.1">−6</tspan></text>
<text transform="translate(400.2,378.2) rotate(-2) scale(2.05,1)" stroke="none" font-size="8.96">10<tspan font-size="6.27" dy="-2.1">−7</tspan></text>
<text transform="translate(421.1,367.0) rotate(-2) scale(2.05,1)" stroke="none" font-size="8.75">10<tspan font-size="6.12" dy="-2.0">−8</tspan></text>
<text transform="translate(441.0,356.3) rotate(-2) scale(2.05,1)" stroke="none" font-size="8.54">10<tspan font-size="5.98" dy="-2.0">−9</tspan></text>
<text transform="translate(460.2,346.1) rotate(-2) scale(2.05,1)" stroke="none" font-size="8.33">10<tspan font-size="5.83" dy="-1.9">−10</tspan></text>
<text transform="translate(478.5,336.3) rotate(-2) scale(2.05,1)" stroke="none" font-size="8.12">10<tspan font-size="5.68" dy="-1.9">−11</tspan></text>
<text transform="translate(496.0,326.9) rotate(-2) scale(2.05,1)" stroke="none" font-size="7.91">10<tspan font-size="5.54" dy="-1.8">−12</tspan></text>
<text transform="translate(512.6,318.0) rotate(-2) scale(2.05,1)" stroke="none" font-size="7.70">10<tspan font-size="5.39" dy="-1.8">−13</tspan></text>
<text x="431" y="386" font-size="17" font-style="italic">β</text>
</g>
<g font-family="'Liberation Serif', serif" font-style="italic" font-size="9.8">
<text transform="translate(146.8,357.0) rotate(17.0)" fill="#c03540" text-anchor="end" x="-2.8" y="8.5">1.24</text>
<text transform="translate(150.2,354.4) rotate(17.0)" fill="#c03540" x="5.7" y="3.9">1.21</text>
<text transform="translate(171.2,346.4) rotate(16.6)" fill="#4c6fae" text-anchor="end" x="-4.8" y="8.5">1.23</text>
<text transform="translate(178.1,345.1) rotate(16.6)" fill="#4c6fae" x="5.6" y="3.6">1.27</text>
<text transform="translate(195.6,336.6) rotate(16.1)" fill="#3b7d5f" text-anchor="end" x="-7.8" y="7.3">1.24</text>
<text transform="translate(208.9,337.5) rotate(16.1)" fill="#3b7d5f" x="5.5" y="3.2">1.41</text>
<text transform="translate(228.8,330.5) rotate(15.7)" fill="#8a55c0" text-anchor="end" x="-5.8" y="8.5">1.45</text>
<text transform="translate(236.4,329.2) rotate(15.7)" fill="#8a55c0" x="5.4" y="2.9">1.50</text>
<text transform="translate(250.8,321.1) rotate(15.2)" fill="#c8a838" text-anchor="end" x="-4.8" y="8.5">1.45</text>
<text transform="translate(268.8,323.1) rotate(15.2)" fill="#c8a838" x="5.3" y="2.5">1.71</text>
<text transform="translate(272.1,312.1) rotate(14.8)" fill="#2a9aa0" text-anchor="end" x="-5.3" y="8.5">1.45</text>
<text transform="translate(304.8,318.6) rotate(14.8)" fill="#2a9aa0" x="5.2" y="2.2">2.01</text>
<text transform="translate(293.0,303.5) rotate(14.3)" fill="#6b4a44" text-anchor="end" x="-3.8" y="8.5">1.46</text>
<text transform="translate(333.5,312.1) rotate(14.3)" fill="#6b4a44" x="5.1" y="1.9">2.18</text>
<text transform="translate(313.2,295.2) rotate(13.8)" fill="#8a8f30" text-anchor="end" x="-2.8" y="8.5">1.47</text>
<text transform="translate(360.4,305.5) rotate(13.8)" fill="#8a8f30" x="5.0" y="1.5">2.33</text>
<text transform="translate(331.8,287.0) rotate(13.4)" fill="#c8683a" text-anchor="end" x="-2.8" y="8.5">1.46</text>
<text transform="translate(402.6,303.7) rotate(13.4)" fill="#c8683a" x="4.9" y="1.2">2.80</text>
<text transform="translate(362.4,282.6) rotate(12.9)" fill="#5a80b8" text-anchor="end" x="-2.8" y="8.5">1.72</text>
<text transform="translate(434.5,299.1) rotate(12.9)" fill="#5a80b8" x="4.8" y="0.8">3.08</text>
<text transform="translate(380.0,274.9) rotate(12.5)" fill="#6f9a30" text-anchor="end" x="-2.8" y="8.5">1.72</text>
<text transform="translate(461.1,293.3) rotate(12.5)" fill="#6f9a30" x="4.7" y="0.5">3.27</text>
</g>
<g font-family="'Liberation Serif', serif" font-weight="bold" font-size="10">
<text transform="translate(88,286.5) rotate(90)" fill="#d9363e" textLength="31.3">IR-BFS</text>
<text transform="translate(78,286.5) rotate(90)" fill="#d9363e" textLength="40">FHP-BFS</text>
<text transform="translate(138,268.7) rotate(90)" fill="#3a9a6a" textLength="31.3">IR-BFS</text>
<text transform="translate(128.2,268.2) rotate(90)" fill="#3a9a6a" textLength="40">FHP-BFS</text>
<text transform="translate(205.7,245) rotate(90)" fill="#2aa8a8" textLength="31.3">IR-BFS</text>
<text transform="translate(195,244) rotate(90)" fill="#2aa8a8" textLength="40">FHP-BFS</text>
<text transform="translate(246.7,230) rotate(90)" fill="#98a030" textLength="31.3">IR-BFS</text>
<text transform="translate(236.2,228) rotate(90)" fill="#98a030" textLength="40">FHP-BFS</text>
<text transform="translate(304.3,210.6) rotate(90)" fill="#78b030" textLength="31.3">IR-BFS</text>
<text transform="translate(293.9,207.6) rotate(90)" fill="#78b030" textLength="40">FHP-BFS</text>
</g>
<g stroke="#000" stroke-width="2" fill="none">
<path d="M364.5,31 H400"/>
<path d="M364.5,52.7 H400" stroke-dasharray="6.5 2.6"/>
<path d="M364.5,74 H400" stroke-dasharray="9.3 2.5 2.5 2.5"/>
</g>
<g font-family="'Liberation Serif', serif" font-size="13" fill="#111" stroke="#111" stroke-width="0.25">
<text x="406.3" y="35.5" textLength="55"><tspan font-style="italic" font-size="14.5">u</tspan><tspan font-size="9.5" dy="3">m</tspan><tspan dy="-3"> of BFS</tspan></text>
<text x="406.3" y="57" textLength="97.5"><tspan font-style="italic" font-size="14.5">u</tspan><tspan font-size="9.5" dy="3">s</tspan><tspan dy="-3">, </tspan><tspan font-style="italic" font-size="14.5">u</tspan><tspan font-size="9.5" dy="3">e</tspan><tspan dy="-3"> of FHP-BFS</tspan></text>
<text x="406.3" y="78.5" textLength="86"><tspan font-style="italic" font-size="14.5">u</tspan><tspan font-size="9.5" dy="3">s</tspan><tspan dy="-3">, </tspan><tspan font-style="italic" font-size="14.5">u</tspan><tspan font-size="9.5" dy="3">e</tspan><tspan dy="-3"> of IR-BFS</tspan></text>
</g>
</svg>
</body></html>
